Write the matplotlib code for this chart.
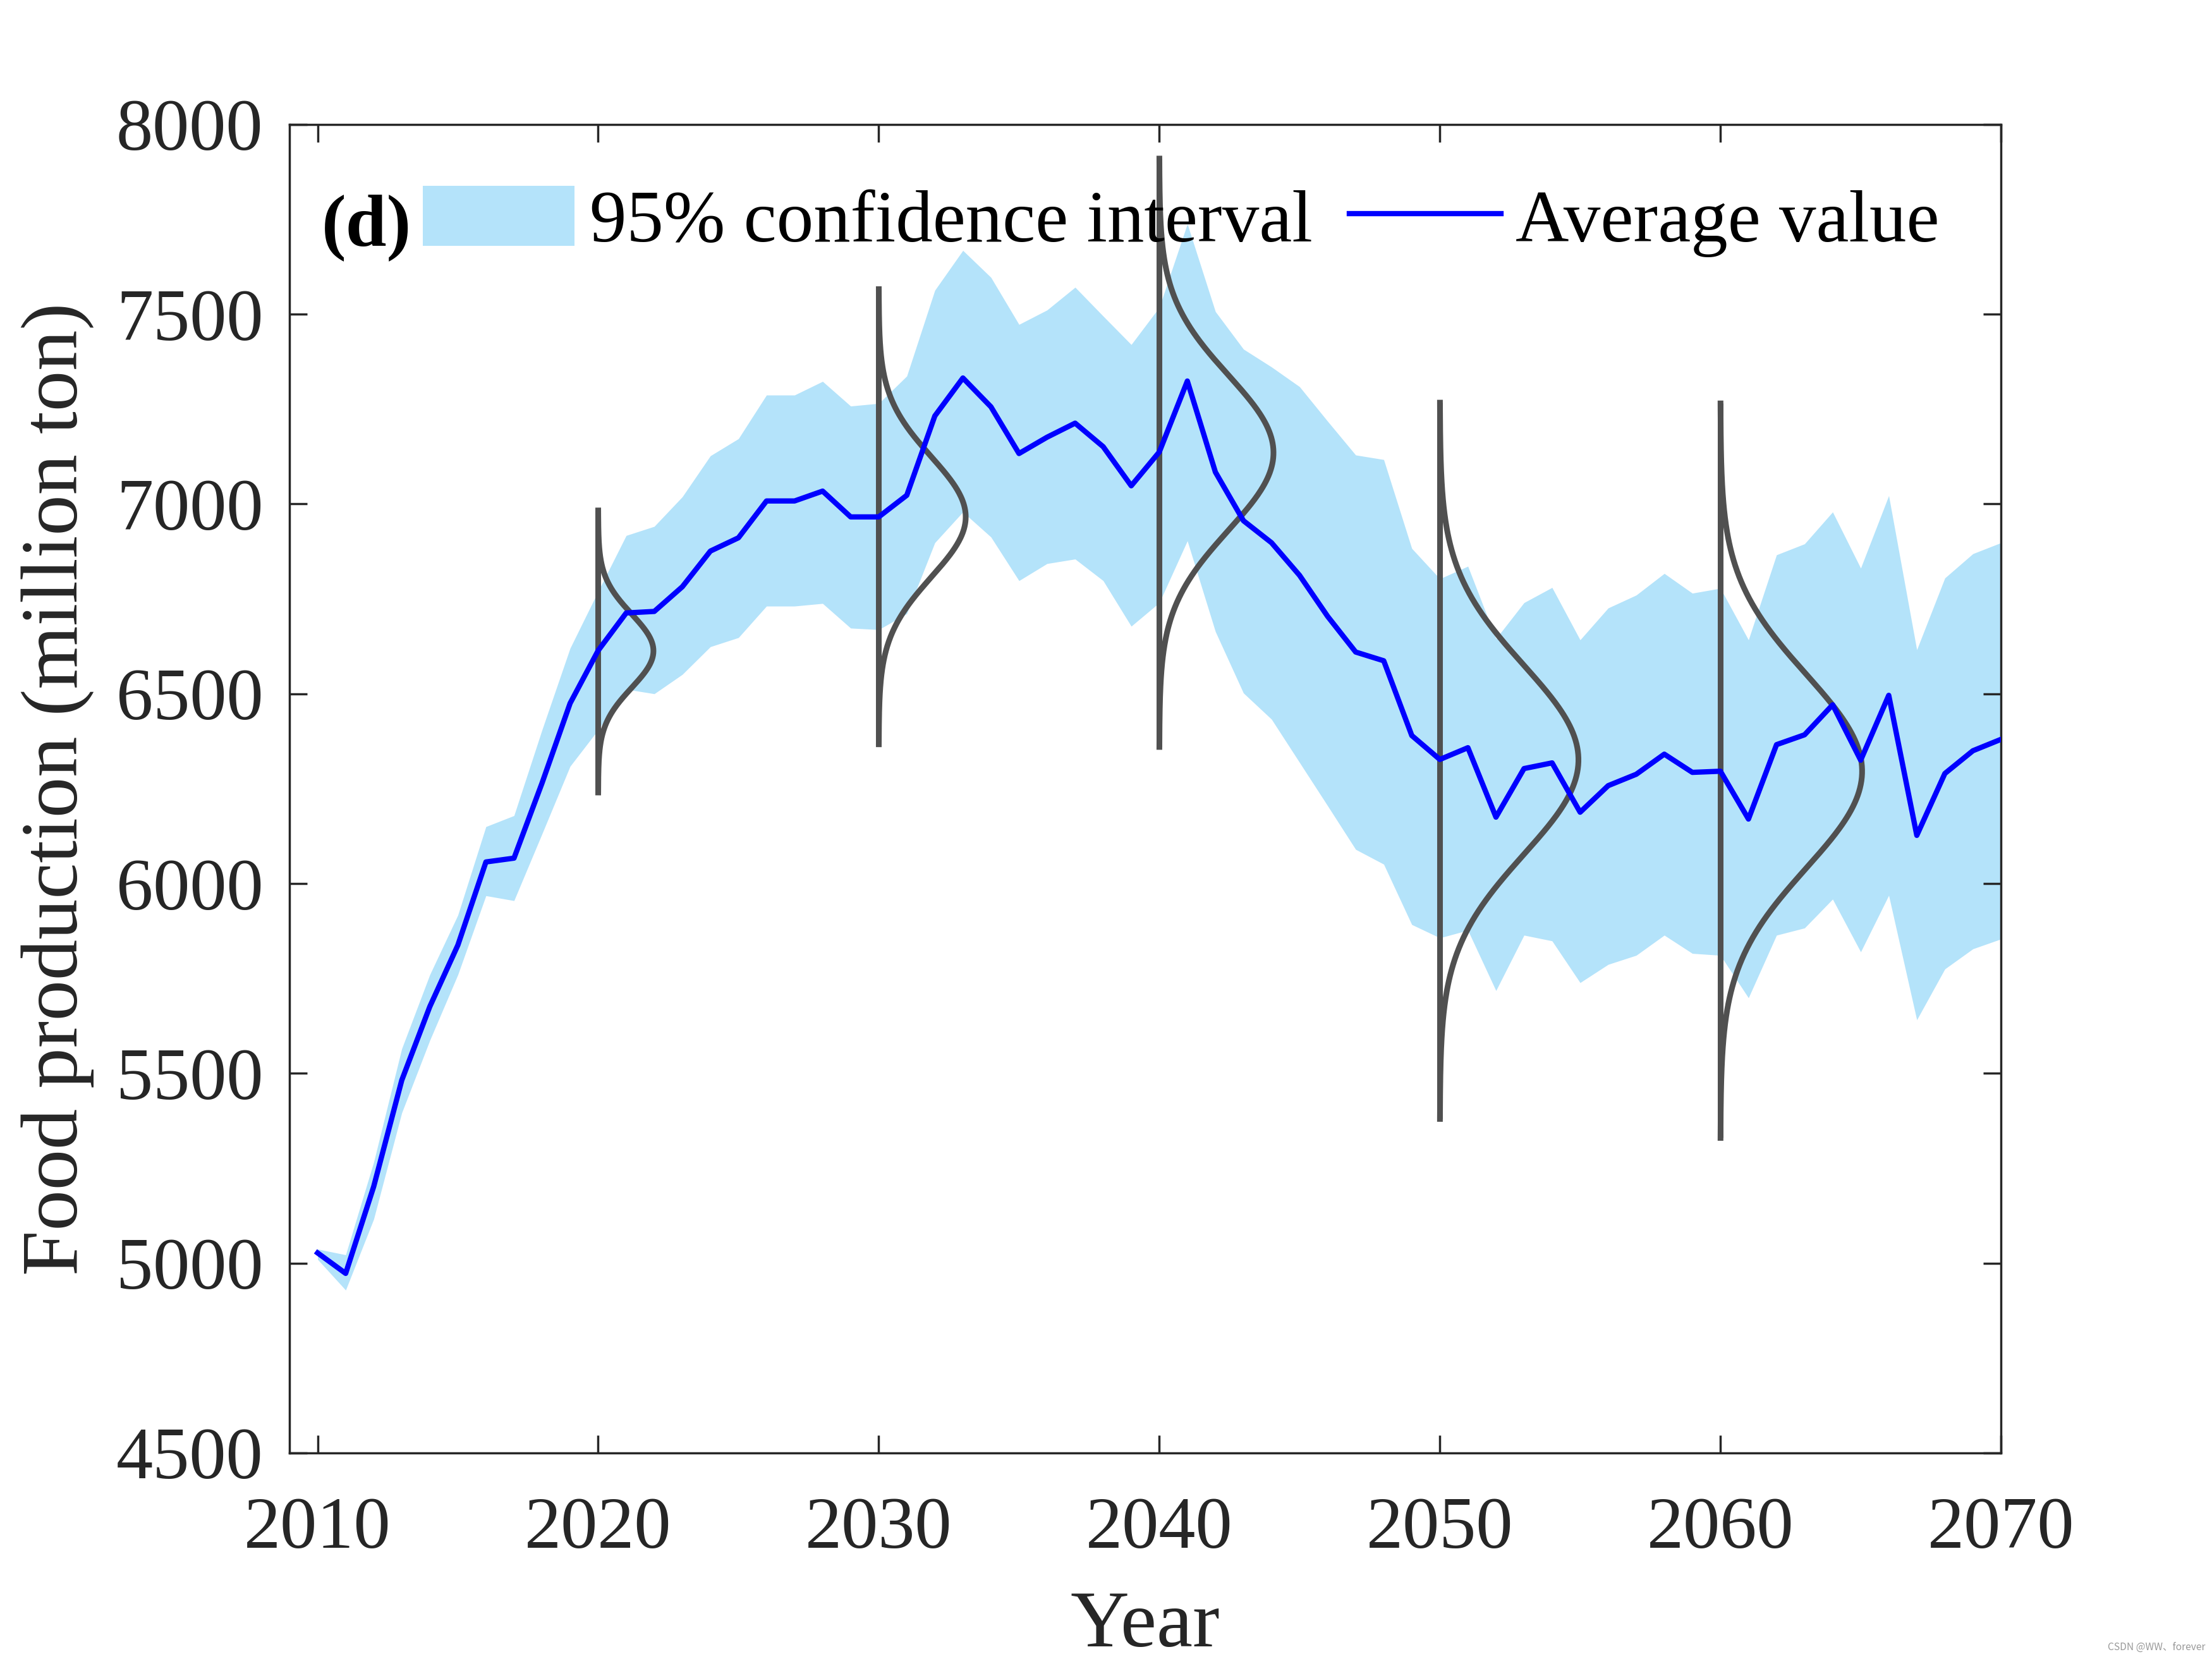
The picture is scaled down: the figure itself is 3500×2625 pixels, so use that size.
import numpy as np
import matplotlib
matplotlib.use('Agg')
import matplotlib.pyplot as plt

# dados
anos = np.arange(2010, 2071)

media = [5027, 4973, 5202, 5482, 5676, 5838, 6057, 6067, 6265, 6475,
         6614, 6713, 6717, 6782, 6876, 6911, 7008, 7008, 7034, 6966,
         6966, 7023, 7232, 7332, 7256, 7133, 7176, 7213, 7151, 7048,
         7137, 7324, 7084, 6956, 6898, 6812, 6704, 6610, 6587, 6390,
         6327, 6358, 6175, 6303, 6318, 6188, 6258, 6288, 6341, 6293,
         6296, 6170, 6366, 6392, 6471, 6325, 6496, 6127, 6290, 6350,
         6380]

superior = [5037, 5022, 5266, 5565, 5760, 5917, 6150, 6179, 6405, 6620,
            6770, 6917, 6941, 7019, 7127, 7172, 7287, 7287, 7323, 7258,
            7265, 7337, 7563, 7668, 7597, 7473, 7511, 7571, 7495, 7420,
            7518, 7738, 7507, 7408, 7361, 7309, 7218, 7129, 7117, 6883,
            6803, 6836, 6645, 6740, 6780, 6642, 6726, 6760, 6817, 6765,
            6778, 6642, 6866, 6895, 6979, 6831, 7022, 6616, 6805, 6869,
            6898]

inferior = [5010, 4929, 5116, 5396, 5587, 5760, 5968, 5955, 6131, 6309,
            6405, 6512, 6500, 6551, 6624, 6648, 6731, 6731, 6738, 6673,
            6669, 6711, 6898, 6979, 6913, 6798, 6843, 6855, 6798, 6678,
            6740, 6903, 6664, 6502, 6433, 6319, 6205, 6090, 6051, 5892,
            5857, 5877, 5718, 5864, 5849, 5739, 5787, 5811, 5864, 5816,
            5811, 5699, 5864, 5883, 5959, 5820, 5969, 5641, 5775, 5828,
            5854]

# curvas de distribuicao (anos, centro, desvio, largura em anos, limites da linha)
dist_anos = [2020, 2030, 2040, 2050, 2060]
dist_centro = [6613, 6966, 7135, 6326, 6296]
dist_sigma = [97, 158, 204, 249, 255]
dist_largura = [1.97, 3.10, 4.07, 4.94, 5.05]
dist_min = [6240, 6367, 6360, 5380, 5330]
dist_max = [6983, 7566, 7910, 7267, 7265]

cor_eixo = '#262626'
plt.rcParams['font.family'] = ['Liberation Serif', 'DejaVu Serif']

fig = plt.figure(figsize=(14, 10.5), dpi=250)
ax = fig.add_axes([0.1309, 0.1242, 0.7737, 0.8008])

# faixa de confianca
faixa = ax.fill_between(anos, inferior, superior, color='#B4E3FA', linewidth=0,
                        zorder=1, label='95% confidence interval')

# distribuicoes
for ano, c, s, w, lo, hi in zip(dist_anos, dist_centro, dist_sigma,
                                dist_largura, dist_min, dist_max):
    y = np.linspace(lo, hi, 400)
    x = ano + w * np.exp(-(y - c) ** 2 / (2 * s ** 2))
    ax.plot([ano, ano], [lo, hi], color='#505050', linewidth=2.6,
            solid_capstyle='butt', zorder=2)
    ax.plot(x, y, color='#505050', linewidth=2.6, zorder=2)

# media
linha, = ax.plot(anos, media, color='#0000FF', linewidth=2.4, zorder=3,
                 label='Average value')

ax.set_xlim(2009, 2070)
ax.set_ylim(4500, 8000)
ax.set_xticks(np.arange(2010, 2071, 10))
ax.set_yticks(np.arange(4500, 8001, 500))

ax.tick_params(direction='in', length=8, width=1.0, top=True, right=True,
               labelsize=33.5, colors=cor_eixo)
ax.tick_params(axis='x', pad=20)
ax.tick_params(axis='y', pad=12)
for sp in ax.spines.values():
    sp.set_color(cor_eixo)
    sp.set_linewidth(1.0)

ax.set_xlabel('Year', fontsize=37, color=cor_eixo, labelpad=12)
ax.set_ylabel('Food production (million ton)', fontsize=37, color=cor_eixo,
              labelpad=10)

leg = ax.legend(handles=[faixa, linha], loc='center left',
                bbox_to_anchor=(0.078, 0.927), ncol=2, frameon=False,
                fontsize=33.7, borderpad=0, borderaxespad=0,
                handlelength=2.05, handleheight=0.87, handletextpad=0.2,
                columnspacing=0.5)

ax.text(0.0188, 0.909, '(d)', transform=ax.transAxes, fontsize=33.5,
        fontweight='bold', va='baseline', ha='left', color='black')

fig.text(0.997, 0.004, 'CSDN @WW\u3001forever', ha='right', va='bottom',
         fontsize=4.5, color='#9a9a9a',
         family=['Noto Sans CJK SC', 'DejaVu Sans'])

fig.savefig('out.png', dpi=250)
